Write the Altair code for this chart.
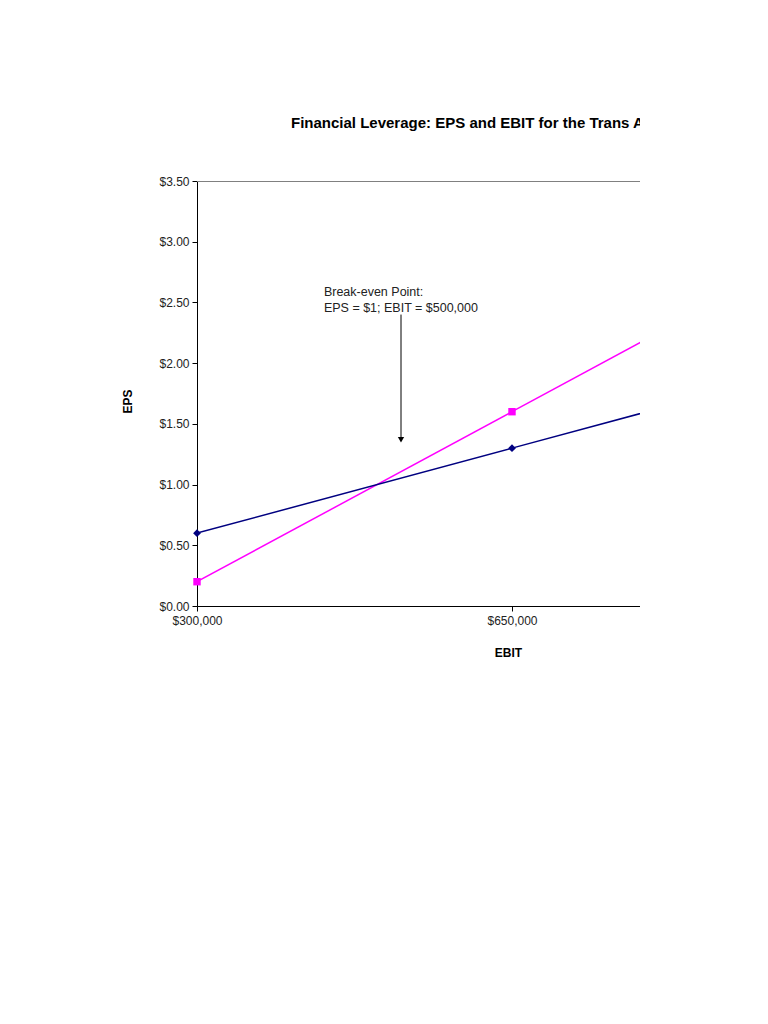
import altair as alt
import pandas as pd

ebit = [300000, 650000, 1000000]
eps_blue = [0.60, 1.30, 2.00]
eps_magenta = [0.20, 1.60, 3.00]

x_domain = [300000, 792222]
x_ticks = [300000, 650000]
y_ticks = [0.0, 0.5, 1.0, 1.5, 2.0, 2.5, 3.0, 3.5]

note_lines = ["Break-even Point:", "EPS = $1; EBIT = $500,000"]
note_x = [441000, 441000]
note_y = [2.55, 2.425]
arrow_x = [526667]
arrow_top = [2.40]
arrow_tip = [1.37]

FONT = "Liberation Sans"

blue = pd.DataFrame({"ebit": ebit, "eps": eps_blue})
mag = pd.DataFrame({"ebit": ebit, "eps": eps_magenta})
notes = pd.DataFrame({"x": note_x, "y": note_y, "t": note_lines})
arrow = pd.DataFrame({"x": arrow_x, "y1": arrow_top, "y2": arrow_tip})
topline = pd.DataFrame({"x1": [300000], "x2": [1000000], "y": [3.5]})

xs = alt.Scale(domain=x_domain, nice=False, zero=False)
ys = alt.Scale(domain=[0, 3.5], nice=False)

xaxis = alt.Axis(values=x_ticks, format="$,d", title="EBIT", grid=False,
                 domainColor="black", tickColor="black", tickSize=5,
                 labelFlush=False, labelOverlap=False,
                 labelFont=FONT, labelFontSize=12, labelColor="#222222",
                 labelPadding=4, titleFont=FONT, titleFontSize=12,
                 titleFontWeight="bold", titleColor="black",
                 titleX=311, titleY=41, titleBaseline="top")
yaxis = alt.Axis(values=y_ticks, format="$.2f", title="EPS", grid=False,
                 domainColor="black", tickColor="black", tickSize=5,
                 labelFlush=False, labelOverlap=False,
                 labelFont=FONT, labelFontSize=12, labelColor="#222222",
                 labelPadding=3, titleFont=FONT, titleFontSize=12,
                 titleFontWeight="bold", titleColor="black",
                 titleX=-63, titleY=220, titleAngle=-90, titleBaseline="bottom")

top = alt.Chart(topline).mark_rule(color="#808080", strokeWidth=2, clip=True).encode(
    x=alt.X("x1:Q", scale=xs, axis=xaxis), x2="x2:Q",
    y=alt.Y("y:Q", scale=ys, axis=yaxis))

mline = alt.Chart(mag).mark_line(color="#FF00FF", strokeWidth=1.5, clip=True).encode(
    x=alt.X("ebit:Q", scale=xs), y=alt.Y("eps:Q", scale=ys))
mpts = alt.Chart(mag).mark_point(shape="square", filled=True, color="#FF00FF",
                                 size=55, opacity=1).encode(
    x=alt.X("ebit:Q", scale=xs), y=alt.Y("eps:Q", scale=ys))
bline = alt.Chart(blue).mark_line(color="#000080", strokeWidth=1.5, clip=True).encode(
    x=alt.X("ebit:Q", scale=xs), y=alt.Y("eps:Q", scale=ys))
bpts = alt.Chart(blue).mark_point(shape="diamond", filled=True, color="#000080",
                                  size=60, opacity=1).encode(
    x=alt.X("ebit:Q", scale=xs), y=alt.Y("eps:Q", scale=ys))

txt = alt.Chart(notes).mark_text(align="left", baseline="alphabetic", font=FONT,
                                 fontSize=12.5, color="#222222").encode(
    x=alt.X("x:Q", scale=xs), y=alt.Y("y:Q", scale=ys), text="t:N")
arr = alt.Chart(arrow).mark_rule(color="black", strokeWidth=1).encode(
    x=alt.X("x:Q", scale=xs), y=alt.Y("y1:Q", scale=ys), y2="y2:Q")
head = alt.Chart(arrow).mark_point(shape="triangle-down", filled=True, color="black",
                                   size=40, opacity=1).encode(
    x=alt.X("x:Q", scale=xs), y=alt.Y("y2:Q", scale=ys))

chart = alt.layer(top, mline, bline, mpts, bpts, txt, arr, head).properties(
    width=443, height=425,
    title=alt.TitleParams("Financial Leverage: EPS and EBIT for the Trans America Company",
                          anchor="start", dx=170, offset=44, font=FONT, fontSize=15,
                          fontWeight="bold", color="black"),
    autosize=alt.AutoSizeParams(type="none"),
    padding={"left": 189, "top": 173, "right": 0, "bottom": 100},
).configure_view(stroke=None)

chart.save("out.html", embed_options={"renderer": "svg", "actions": False})
